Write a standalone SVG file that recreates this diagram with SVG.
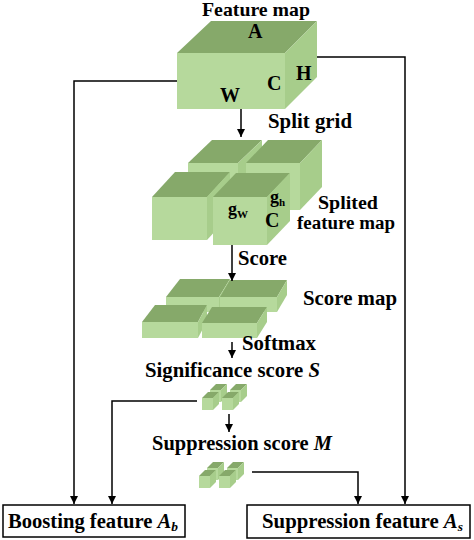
<svg xmlns="http://www.w3.org/2000/svg" width="474" height="540" viewBox="0 0 474 540">
<style>
.t{font-family:"Liberation Serif","Times New Roman",serif;font-weight:bold;font-size:20px;fill:#000}
.i{font-style:italic}
.top{fill:#86a96a}
.fr{fill:#b6d99c}
.rt{fill:#a7cd8b}
.ln{fill:none;stroke:#000;stroke-width:1.5}
.box{fill:#fff;stroke:#000;stroke-width:1.5}
</style>
<defs>
<marker id="ah" viewBox="0 0 10 10" markerUnits="userSpaceOnUse" markerWidth="8" markerHeight="9" refX="10" refY="5" orient="auto">
<path d="M0,0 L10,5 L0,10 z" fill="#000"/>
</marker>
<g id="tiny">
<polygon class="top" points="0,0 6,-6 17,-6 11,0"/>
<rect class="fr" x="0" y="0" width="11" height="12"/>
<polygon class="rt" points="11,0 17,-6 17,6 11,12"/>
</g>
</defs>

<g id="feature-map">
<text class="t" x="202" y="16" style="font-size:19px" textLength="108" lengthAdjust="spacingAndGlyphs">Feature map</text>
<polygon class="top" points="177,53 211,21 317,21 285,53"/>
<rect class="fr" x="177" y="53" width="108" height="56"/>
<polygon class="rt" points="285,53 317,21 317,77 285,109"/>
<text class="t" x="248" y="38">A</text>
<text class="t" x="220" y="102">W</text>
<text class="t" x="267" y="90">C</text>
<text class="t" x="296" y="80">H</text>
</g>

<g id="split-grid-label">
<text class="t" x="268" y="128" textLength="84" lengthAdjust="spacingAndGlyphs">Split grid</text>
</g>

<g id="splited-feature-map">
<polygon class="top" points="188,163 212,140 262,140 238,163"/>
<rect class="fr" x="188" y="163" width="50" height="45"/>
<polygon class="rt" points="238,163 262,140 262,185 238,208"/>
<polygon class="top" points="246,163 268,140 322,140 300,163"/>
<rect class="fr" x="246" y="163" width="54" height="47"/>
<polygon class="rt" points="300,163 322,140 322,187 300,210"/>
<polygon class="top" points="152,197 175,172 230,172 207,197"/>
<rect class="fr" x="152" y="197" width="55" height="43"/>
<polygon class="rt" points="207,197 230,172 230,215 207,240"/>
<polygon class="top" points="213,197 236,173 290,173 267,197"/>
<rect class="fr" x="213" y="197" width="54" height="48"/>
<polygon class="rt" points="267,197 290,173 290,221 267,245"/>
<text class="t" x="228" y="215" style="font-size:18px">g<tspan dy="3" style="font-size:11px">W</tspan></text>
<text class="t" x="270" y="203" style="font-size:18px">g<tspan dy="3" style="font-size:11px">h</tspan></text>
<text class="t" x="265" y="227">C</text>
<text class="t" x="318" y="209" style="font-size:18px" textLength="60" lengthAdjust="spacingAndGlyphs">Splited</text>
<text class="t" x="297" y="229" style="font-size:18px" textLength="98" lengthAdjust="spacingAndGlyphs">feature map</text>
</g>

<g id="score-label">
<text class="t" x="238" y="265" textLength="49" lengthAdjust="spacingAndGlyphs">Score</text>
</g>

<g id="score-map">
<polygon class="top" points="166,297 180,279 230,279 219,297"/>
<rect class="fr" x="166" y="297" width="53" height="15"/>
<polygon class="rt" points="219,297 230,279 230,294 219,312"/>
<polygon class="top" points="220,297 230,280 287,280 277,297"/>
<rect class="fr" x="220" y="297" width="57" height="15"/>
<polygon class="rt" points="277,297 287,280 287,295 277,312"/>
<polygon class="top" points="142,322 155,305 207,305 198,322"/>
<rect class="fr" x="142" y="322" width="56" height="16"/>
<polygon class="rt" points="198,322 207,305 207,321 198,338"/>
<polygon class="top" points="202,323 212,307 267,307 257,323"/>
<rect class="fr" x="202" y="323" width="55" height="15"/>
<polygon class="rt" points="257,323 267,307 267,322 257,338"/>
<text class="t" x="303" y="305" textLength="94" lengthAdjust="spacingAndGlyphs">Score map</text>
</g>

<g id="softmax-label">
<text class="t" x="242" y="350" textLength="74" lengthAdjust="spacingAndGlyphs">Softmax</text>
</g>

<g id="significance-score">
<text class="t" x="145" y="377" textLength="175" lengthAdjust="spacingAndGlyphs">Significance score <tspan class="i">S</tspan></text>
<use href="#tiny" x="210" y="390"/>
<use href="#tiny" x="230" y="390"/>
<use href="#tiny" x="202" y="398"/>
<use href="#tiny" x="222" y="398"/>
</g>

<g id="suppression-score">
<text class="t" x="152" y="450" textLength="180" lengthAdjust="spacingAndGlyphs">Suppression score <tspan class="i">M</tspan></text>
<use href="#tiny" x="207" y="468"/>
<use href="#tiny" x="227" y="468"/>
<use href="#tiny" x="199" y="476"/>
<use href="#tiny" x="219" y="476"/>
</g>

<g id="boosting-feature">
<rect class="box" x="3" y="505" width="182" height="32"/>
<text class="t" x="8" y="528" textLength="170" lengthAdjust="spacingAndGlyphs">Boosting feature <tspan class="i">A</tspan><tspan class="i" dy="3" style="font-size:13px">b</tspan></text>
</g>

<g id="suppression-feature">
<rect class="box" x="247" y="505" width="223" height="33"/>
<text class="t" x="262" y="528" textLength="201" lengthAdjust="spacingAndGlyphs">Suppression feature <tspan class="i">A</tspan><tspan class="i" dy="3" style="font-size:13px">s</tspan></text>
</g>

<g id="connectors">
<path class="ln" d="M241,109 V137" marker-end="url(#ah)"/>
<path class="ln" d="M177,81 H74 V504" marker-end="url(#ah)"/>
<path class="ln" d="M317,57 H405 V504" marker-end="url(#ah)"/>
<path class="ln" d="M232,245 V281" marker-end="url(#ah)"/>
<path class="ln" d="M232,342 V358" marker-end="url(#ah)"/>
<path class="ln" d="M197,401 H112 V504" marker-end="url(#ah)"/>
<path class="ln" d="M229,414 V432" marker-end="url(#ah)"/>
<path class="ln" d="M252,472 H358 V504" marker-end="url(#ah)"/>
</g>
</svg>
